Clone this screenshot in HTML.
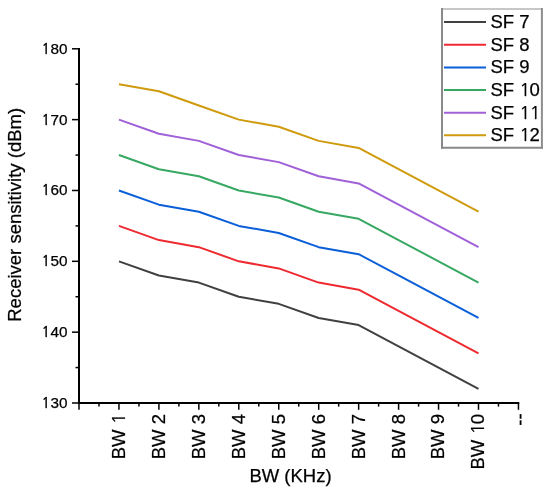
<!DOCTYPE html><html><head><meta charset="utf-8"><title>Receiver sensitivity vs BW</title><style>html,body{margin:0;padding:0;background:#fff;}svg{display:block;}text{font-family:'Liberation Sans', Arial, sans-serif;fill:#000;stroke:#000;stroke-width:0.25px;font-kerning:none;}.o{font-family:NanumGothic,'Liberation Sans',sans-serif;letter-spacing:-0.05em;}.y .o{font-size:0.88em;letter-spacing:0.026em;stroke-width:0.5px;}</style></head><body>
<svg width="550" height="492" viewBox="0 0 550 492">
<rect width="550" height="492" fill="#fff"/>
<polyline points="118.95,261.32 158.90,275.49 198.85,282.57 238.80,296.74 278.75,303.82 318.70,317.99 358.65,325.08 398.60,346.33 438.55,367.58 478.50,388.83" fill="none" stroke="#404040" stroke-width="2" stroke-linejoin="round"/>
<polyline points="118.95,225.90 158.90,240.07 198.85,247.15 238.80,261.32 278.75,268.40 318.70,282.57 358.65,289.66 398.60,310.91 438.55,332.16 478.50,353.41" fill="none" stroke="#ee2a30" stroke-width="2" stroke-linejoin="round"/>
<polyline points="118.95,190.48 158.90,204.65 198.85,211.73 238.80,225.90 278.75,232.98 318.70,247.15 358.65,254.24 398.60,275.49 438.55,296.74 478.50,317.99" fill="none" stroke="#0a5fd8" stroke-width="2" stroke-linejoin="round"/>
<polyline points="118.95,155.06 158.90,169.23 198.85,176.31 238.80,190.48 278.75,197.56 318.70,211.73 358.65,218.82 398.60,240.07 438.55,261.32 478.50,282.57" fill="none" stroke="#37a862" stroke-width="2" stroke-linejoin="round"/>
<polyline points="118.95,119.64 158.90,133.81 198.85,140.89 238.80,155.06 278.75,162.14 318.70,176.31 358.65,183.40 398.60,204.65 438.55,225.90 478.50,247.15" fill="none" stroke="#a060d8" stroke-width="2" stroke-linejoin="round"/>
<polyline points="118.95,84.22 158.90,91.30 198.85,105.47 238.80,119.64 278.75,126.72 318.70,140.89 358.65,147.98 398.60,169.23 438.55,190.48 478.50,211.73" fill="none" stroke="#cf9a0c" stroke-width="2" stroke-linejoin="round"/>
<g stroke="#000" fill="none">
<line x1="79" y1="48" x2="79" y2="404" stroke-width="2"/>
<line x1="78" y1="403" x2="519.3" y2="403" stroke-width="2"/>
<line x1="72" y1="48.80" x2="79" y2="48.80" stroke-width="1.5"/>
<line x1="75.5" y1="84.22" x2="79" y2="84.22" stroke-width="1.5"/>
<line x1="72" y1="119.64" x2="79" y2="119.64" stroke-width="1.5"/>
<line x1="75.5" y1="155.06" x2="79" y2="155.06" stroke-width="1.5"/>
<line x1="72" y1="190.48" x2="79" y2="190.48" stroke-width="1.5"/>
<line x1="75.5" y1="225.90" x2="79" y2="225.90" stroke-width="1.5"/>
<line x1="72" y1="261.32" x2="79" y2="261.32" stroke-width="1.5"/>
<line x1="75.5" y1="296.74" x2="79" y2="296.74" stroke-width="1.5"/>
<line x1="72" y1="332.16" x2="79" y2="332.16" stroke-width="1.5"/>
<line x1="75.5" y1="367.58" x2="79" y2="367.58" stroke-width="1.5"/>
<line x1="72" y1="403.00" x2="79" y2="403.00" stroke-width="1.5"/>
<line x1="79.00" y1="403" x2="79.00" y2="409.8" stroke-width="1.5"/>
<line x1="98.97" y1="403" x2="98.97" y2="406.6" stroke-width="1.5"/>
<line x1="118.95" y1="403" x2="118.95" y2="409.8" stroke-width="1.5"/>
<line x1="138.93" y1="403" x2="138.93" y2="406.6" stroke-width="1.5"/>
<line x1="158.90" y1="403" x2="158.90" y2="409.8" stroke-width="1.5"/>
<line x1="178.88" y1="403" x2="178.88" y2="406.6" stroke-width="1.5"/>
<line x1="198.85" y1="403" x2="198.85" y2="409.8" stroke-width="1.5"/>
<line x1="218.83" y1="403" x2="218.83" y2="406.6" stroke-width="1.5"/>
<line x1="238.80" y1="403" x2="238.80" y2="409.8" stroke-width="1.5"/>
<line x1="258.77" y1="403" x2="258.77" y2="406.6" stroke-width="1.5"/>
<line x1="278.75" y1="403" x2="278.75" y2="409.8" stroke-width="1.5"/>
<line x1="298.73" y1="403" x2="298.73" y2="406.6" stroke-width="1.5"/>
<line x1="318.70" y1="403" x2="318.70" y2="409.8" stroke-width="1.5"/>
<line x1="338.68" y1="403" x2="338.68" y2="406.6" stroke-width="1.5"/>
<line x1="358.65" y1="403" x2="358.65" y2="409.8" stroke-width="1.5"/>
<line x1="378.62" y1="403" x2="378.62" y2="406.6" stroke-width="1.5"/>
<line x1="398.60" y1="403" x2="398.60" y2="409.8" stroke-width="1.5"/>
<line x1="418.58" y1="403" x2="418.58" y2="406.6" stroke-width="1.5"/>
<line x1="438.55" y1="403" x2="438.55" y2="409.8" stroke-width="1.5"/>
<line x1="458.53" y1="403" x2="458.53" y2="406.6" stroke-width="1.5"/>
<line x1="478.50" y1="403" x2="478.50" y2="409.8" stroke-width="1.5"/>
<line x1="498.48" y1="403" x2="498.48" y2="406.6" stroke-width="1.5"/>
<line x1="518.45" y1="403" x2="518.45" y2="409.8" stroke-width="1.5"/>
</g>
<g class="y" font-size="15.3" text-anchor="end">
<text transform="translate(67.4,53.70)"><tspan class="o">1</tspan>80</text>
<text transform="translate(67.4,124.54)"><tspan class="o">1</tspan>70</text>
<text transform="translate(67.4,195.38)"><tspan class="o">1</tspan>60</text>
<text transform="translate(67.4,266.22)"><tspan class="o">1</tspan>50</text>
<text transform="translate(67.4,337.06)"><tspan class="o">1</tspan>40</text>
<text transform="translate(67.4,407.90)"><tspan class="o">1</tspan>30</text>
</g>
<g font-size="18.5" text-anchor="end">
<text transform="translate(124.85,414) rotate(-90)">BW <tspan class="o">1</tspan></text>
<text transform="translate(164.80,414) rotate(-90)">BW 2</text>
<text transform="translate(204.75,414) rotate(-90)">BW 3</text>
<text transform="translate(244.70,414) rotate(-90)">BW 4</text>
<text transform="translate(284.65,414) rotate(-90)">BW 5</text>
<text transform="translate(324.60,414) rotate(-90)">BW 6</text>
<text transform="translate(364.55,414) rotate(-90)">BW 7</text>
<text transform="translate(404.50,414) rotate(-90)">BW 8</text>
<text transform="translate(444.45,414) rotate(-90)">BW 9</text>
<text transform="translate(484.40,414) rotate(-90)">BW <tspan class="o">1</tspan>0</text>
<text transform="translate(525.55,413.3) rotate(-90)">--</text>
</g>
<text font-size="18.5" x="249.4" y="481.5">BW (KHz)</text>
<text font-size="18.5" transform="translate(21.0,321.75) rotate(-90)">Receiver sensitivity (dBm)</text>
<line x1="441" y1="9.0" x2="543" y2="9.0" stroke="#b4b4b4" stroke-width="1.7"/>
<line x1="442" y1="8" x2="442" y2="148.8" stroke="#8a8a8a" stroke-width="2"/>
<line x1="541.9" y1="8" x2="541.9" y2="148.8" stroke="#8e8e8e" stroke-width="2"/>
<line x1="441" y1="147.8" x2="542.9" y2="147.8" stroke="#888" stroke-width="2"/>
<line x1="444" y1="22.10" x2="486" y2="22.10" stroke="#404040" stroke-width="2"/>
<text font-size="18.5" x="490.4" y="28.00">SF 7</text>
<line x1="444" y1="44.74" x2="486" y2="44.74" stroke="#ee2a30" stroke-width="2"/>
<text font-size="18.5" x="490.4" y="50.64">SF 8</text>
<line x1="444" y1="67.38" x2="486" y2="67.38" stroke="#0a5fd8" stroke-width="2"/>
<text font-size="18.5" x="490.4" y="73.28">SF 9</text>
<line x1="444" y1="90.02" x2="486" y2="90.02" stroke="#37a862" stroke-width="2"/>
<text font-size="18.5" x="490.4" y="95.92">SF <tspan class="o">1</tspan>0</text>
<line x1="444" y1="112.66" x2="486" y2="112.66" stroke="#a060d8" stroke-width="2"/>
<text font-size="18.5" x="490.4" y="118.56">SF <tspan class="o">1</tspan><tspan class="o">1</tspan></text>
<line x1="444" y1="135.30" x2="486" y2="135.30" stroke="#cf9a0c" stroke-width="2"/>
<text font-size="18.5" x="490.4" y="141.20">SF <tspan class="o">1</tspan>2</text>
</svg></body></html>
